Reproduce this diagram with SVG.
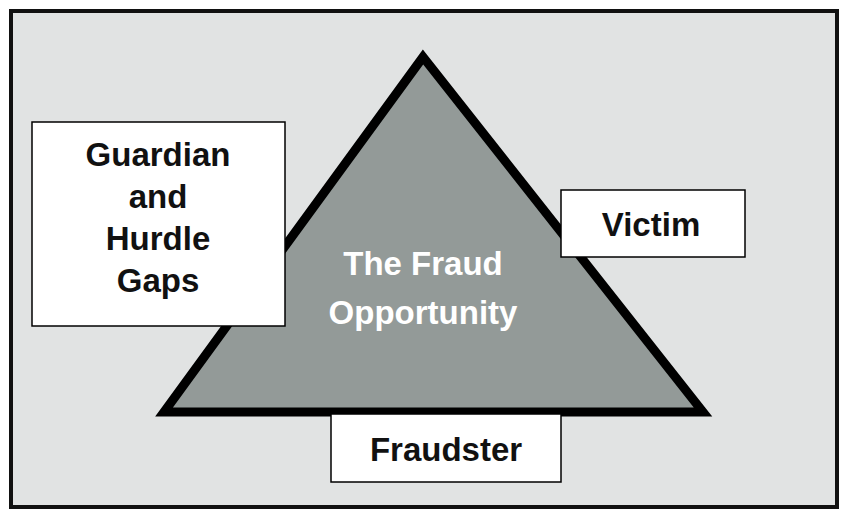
<svg xmlns="http://www.w3.org/2000/svg" width="850" height="518" viewBox="0 0 850 518">
<style>
.box{fill:#fff;stroke:#000;stroke-width:1.5}
.t{font-family:"Liberation Sans",Arial,sans-serif;font-weight:bold;font-size:33px;text-anchor:middle;fill:#111}
.w{fill:#fff}
</style>
<rect x="11" y="11" width="826" height="496" fill="#e1e3e3" stroke="#111" stroke-width="4"/>
<g id="triangle">
<polygon points="423,57 164,412 703,412" fill="#939a98" stroke="#000" stroke-width="9" stroke-linejoin="miter"/>
<text class="t w" x="423" y="275">The Fraud</text>
<text class="t w" x="423" y="324">Opportunity</text>
</g>
<g id="guardian">
<rect class="box" x="32" y="122" width="253" height="204"/>
<text class="t" x="158" y="166">Guardian</text>
<text class="t" x="158" y="208">and</text>
<text class="t" x="158" y="250">Hurdle</text>
<text class="t" x="158" y="292">Gaps</text>
</g>
<g id="victim">
<rect class="box" x="561" y="190" width="184" height="67"/>
<text class="t" x="651" y="236">Victim</text>
</g>
<g id="fraudster">
<rect class="box" x="331" y="414" width="230" height="68"/>
<text class="t" x="446" y="461">Fraudster</text>
</g>
<g id="connectors"/>
</svg>
